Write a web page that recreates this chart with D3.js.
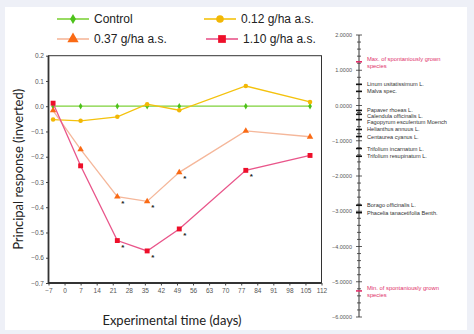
<!DOCTYPE html>
<html>
<head>
<meta charset="utf-8">
<script src="https://cdnjs.cloudflare.com/ajax/libs/d3/7.8.5/d3.min.js"></script>
<style>
  html, body { margin: 0; padding: 0; background: #eef0f7; }
  svg { display: block; }
  .tick text { fill: #555; }
</style>
</head>
<body>
<svg id="chart" width="474" height="334"></svg>
<script>
// sampling days and principal response per treatment
const days = [-5, 7, 23, 36, 50, 79, 107];
const control = [0, 0, 0, 0, 0, 0, 0];
const dose012 = [-0.053, -0.058, -0.042, 0.008, -0.016, 0.080, 0.017];
const dose037 = [-0.017, -0.171, -0.358, -0.377, -0.262, -0.098, -0.121];
const dose110 = [0.012, -0.236, -0.532, -0.573, -0.486, -0.254, -0.195];
// significant difference from control (asterisk)
const sig037 = [0, 0, 1, 1, 1, 0, 0];
const sig110 = [0, 0, 1, 1, 1, 1, 0];

const xTicks = d3.range(-7, 113, 7);
const yTicks = [0.2, 0.1, 0, -0.1, -0.2, -0.3, -0.4, -0.5, -0.6, -0.7];

// species weights on the response axis
const species = ["Linum usitatissimum L.", "Malva spec.", "Papaver rhoeas L.",
  "Calendula officinalis L.", "Fagopyrum esculentum Moench", "Helianthus annuus L.",
  "Centaurea cyanus L.", "Trifolium incarnatum L.", "Trifolium resupinatum L.",
  "Borago officinalis L.", "Phacelia tanacetifolia Benth."];
const speciesScore = [0.60, 0.40, -0.14, -0.25, -0.40, -0.68, -0.88, -1.22, -1.44, -2.83, -3.04];
const rangeLabels = ["Max. of spontaniously grown", "Min. of spontaniously grown"];
const rangeScore = [1.24, -5.26];
const weightTicks = d3.range(-6, 3, 1);

const series = [
  { name: "Control", values: control, sig: null, line: "#7ed23a", fill: "#4cc21a", shape: d3.symbolDiamond, size: 12, lsize: 30 },
  { name: "0.12 g/ha a.s.", values: dose012, sig: null, line: "#f4c20d", fill: "#f2b705", shape: d3.symbolCircle, size: 16, lsize: 45 },
  { name: "0.37 g/ha a.s.", values: dose037, sig: sig037, line: "#f5b79a", fill: "#fa6a14", shape: d3.symbolTriangle, size: 18, lsize: 55 },
  { name: "1.10 g/ha a.s.", values: dose110, sig: sig110, line: "#e9558a", fill: "#ee0f2a", shape: d3.symbolSquare, size: 24, lsize: 60 }
];

// push labels apart so that neighbours keep a minimal gap
function spread(ys, gap) {
  const out = ys.slice();
  for (let i = 1; i < out.length; i++) {
    if (out[i] - out[i - 1] < gap) out[i] = out[i - 1] + gap;
  }
  return out;
}

function draw() {
  const svg = d3.select("#chart");
  svg.append("rect").attr("x", 5).attr("y", 7).attr("width", 462).attr("height", 323).attr("fill", "#fff");

  const x = d3.scaleLinear().domain([-7, 112]).range([48.5, 321.5]);
  const y = d3.scaleLinear().domain([-0.7, 0.2]).range([283, 55.7]);

  // axes
  svg.append("g")
    .attr("transform", "translate(0," + y(-0.7) + ")")
    .call(d3.axisBottom(x).tickValues(xTicks).tickSize(2.5).tickPadding(3))
    .call(g => g.select(".domain").remove())
    .call(g => g.selectAll("line").attr("stroke", "#444"))
    .call(g => g.selectAll("text").attr("font-size", 6.5).attr("font-family", "Liberation Sans, Arial"));

  svg.append("g")
    .attr("transform", "translate(" + x(-7) + ",0)")
    .call(d3.axisLeft(y).tickValues(yTicks).tickFormat(d3.format(".1f")).tickSize(2.5).tickPadding(2))
    .call(g => g.select(".domain").remove())
    .call(g => g.selectAll("line").attr("stroke", "#444"))
    .call(g => g.selectAll("text").attr("font-size", 6.5).attr("font-family", "Liberation Sans, Arial"));

  // plot frame
  svg.append("rect")
    .attr("x", x(-7)).attr("y", y(0.2))
    .attr("width", x(112) - x(-7)).attr("height", y(-0.7) - y(0.2))
    .attr("fill", "none").attr("stroke", "#333").attr("stroke-width", 1);
  svg.append("path")
    .attr("d", "M" + x(-7) + "," + y(0.2) + "V" + y(-0.7) + "H" + x(112))
    .attr("fill", "none").attr("stroke", "#333").attr("stroke-width", 1.8);

  const line = d3.line().x((d, i) => x(days[i])).y(d => y(d));

  series.forEach(s => {
    svg.append("path")
      .datum(s.values)
      .attr("d", line)
      .attr("fill", "none")
      .attr("stroke", s.line)
      .attr("stroke-width", 1.3);

    svg.selectAll(null)
      .data(s.values)
      .enter()
      .append("path")
      .attr("transform", (d, i) => "translate(" + x(days[i]) + "," + y(d) + ")")
      .attr("d", d3.symbol().type(s.shape).size(s.size))
      .attr("fill", s.fill);

    if (s.sig) {
      svg.selectAll(null)
        .data(s.values.map((d, i) => ({ v: d, day: days[i], sig: s.sig[i] })).filter(d => d.sig))
        .enter()
        .append("text")
        .attr("x", d => x(d.day) + 4)
        .attr("y", d => y(d.v) + 9)
        .attr("font-size", 8)
        .attr("font-weight", "bold")
        .attr("font-family", "Liberation Sans, Arial")
        .attr("fill", "#222")
        .text("*");
    }
  });

  // legend
  const legendPos = [[57, 19], [204, 19], [57, 39], [206, 39]];
  series.forEach((s, i) => {
    const [lx, ly] = legendPos[i];
    const g = svg.append("g").attr("transform", "translate(" + lx + "," + ly + ")");
    g.append("line").attr("x1", 0).attr("x2", 32).attr("stroke", s.line).attr("stroke-width", 1.6);
    g.append("path").attr("transform", "translate(16,0)")
      .attr("d", d3.symbol().type(s.shape).size(s.lsize)).attr("fill", s.fill);
    g.append("text").attr("x", 37).attr("y", 4.3)
      .attr("font-size", 12).attr("font-family", "Liberation Sans, Arial").attr("fill", "#222")
      .text(s.name);
  });

  // axis titles
  svg.append("text")
    .attr("transform", "translate(23," + ((y(0.2) + y(-0.7)) / 2) + ") rotate(-90)")
    .attr("text-anchor", "middle")
    .attr("font-size", 13).attr("font-family", "Lato, Open Sans, sans-serif").attr("fill", "#222")
    .text("Principal response (inverted)");
  svg.append("text")
    .attr("x", 172).attr("y", 325)
    .attr("text-anchor", "middle")
    .attr("font-size", 13).attr("font-family", "Lato, Open Sans, sans-serif").attr("fill", "#222")
    .text("Experimental time (days)");

  // species weight axis
  const yr = d3.scaleLinear().domain([-6, 2]).range([317, 35]);
  const ax = 359;
  const rg = svg.append("g");
  rg.append("line").attr("x1", ax).attr("x2", ax).attr("y1", yr(2)).attr("y2", yr(-6))
    .attr("stroke", "#333").attr("stroke-width", 1);
  rg.selectAll(null)
    .data(d3.range(-30, 11).map(k => k / 5))
    .enter()
    .append("line")
    .attr("x1", d => Number.isInteger(d) ? ax - 3 : ax - 2)
    .attr("x2", d => Number.isInteger(d) ? ax + 3 : ax + 2)
    .attr("y1", d => yr(d)).attr("y2", d => yr(d))
    .attr("stroke", "#333").attr("stroke-width", 0.8);
  rg.selectAll(null)
    .data(weightTicks)
    .enter()
    .append("text")
    .attr("x", ax - 7).attr("y", d => yr(d) + 2)
    .attr("text-anchor", "end")
    .attr("font-size", 5.5).attr("font-family", "Liberation Sans, Arial").attr("fill", "#555")
    .text(d => d3.format(".4f")(d));

  // species markers and names
  rg.selectAll(null)
    .data(speciesScore)
    .enter()
    .append("line")
    .attr("x1", ax - 3).attr("x2", ax + 3)
    .attr("y1", d => yr(d)).attr("y2", d => yr(d))
    .attr("stroke", "#111").attr("stroke-width", 1.6);
  const labelY = spread(speciesScore.map(d => yr(d) + 2), 5.6);
  rg.selectAll(null)
    .data(species)
    .enter()
    .append("text")
    .attr("x", 367).attr("y", (d, i) => labelY[i])
    .attr("font-size", 5.6).attr("font-family", "Liberation Sans, Arial").attr("fill", "#333")
    .text(d => d);

  rangeLabels.forEach((t, i) => {
    const yy = yr(rangeScore[i]);
    rg.append("line").attr("x1", ax - 3).attr("x2", ax + 3).attr("y1", yy).attr("y2", yy)
      .attr("stroke", "#e0306a").attr("stroke-width", 1.6);
    const tx = rg.append("text")
      .attr("x", 367).attr("y", yy - 1)
      .attr("font-size", 5.8).attr("font-family", "Liberation Sans, Arial").attr("fill", "#e0306a");
    tx.append("tspan").attr("x", 367).text(t);
    tx.append("tspan").attr("x", 367).attr("dy", 7.5).text("species");
  });
}

draw();
</script>
</body>
</html>
